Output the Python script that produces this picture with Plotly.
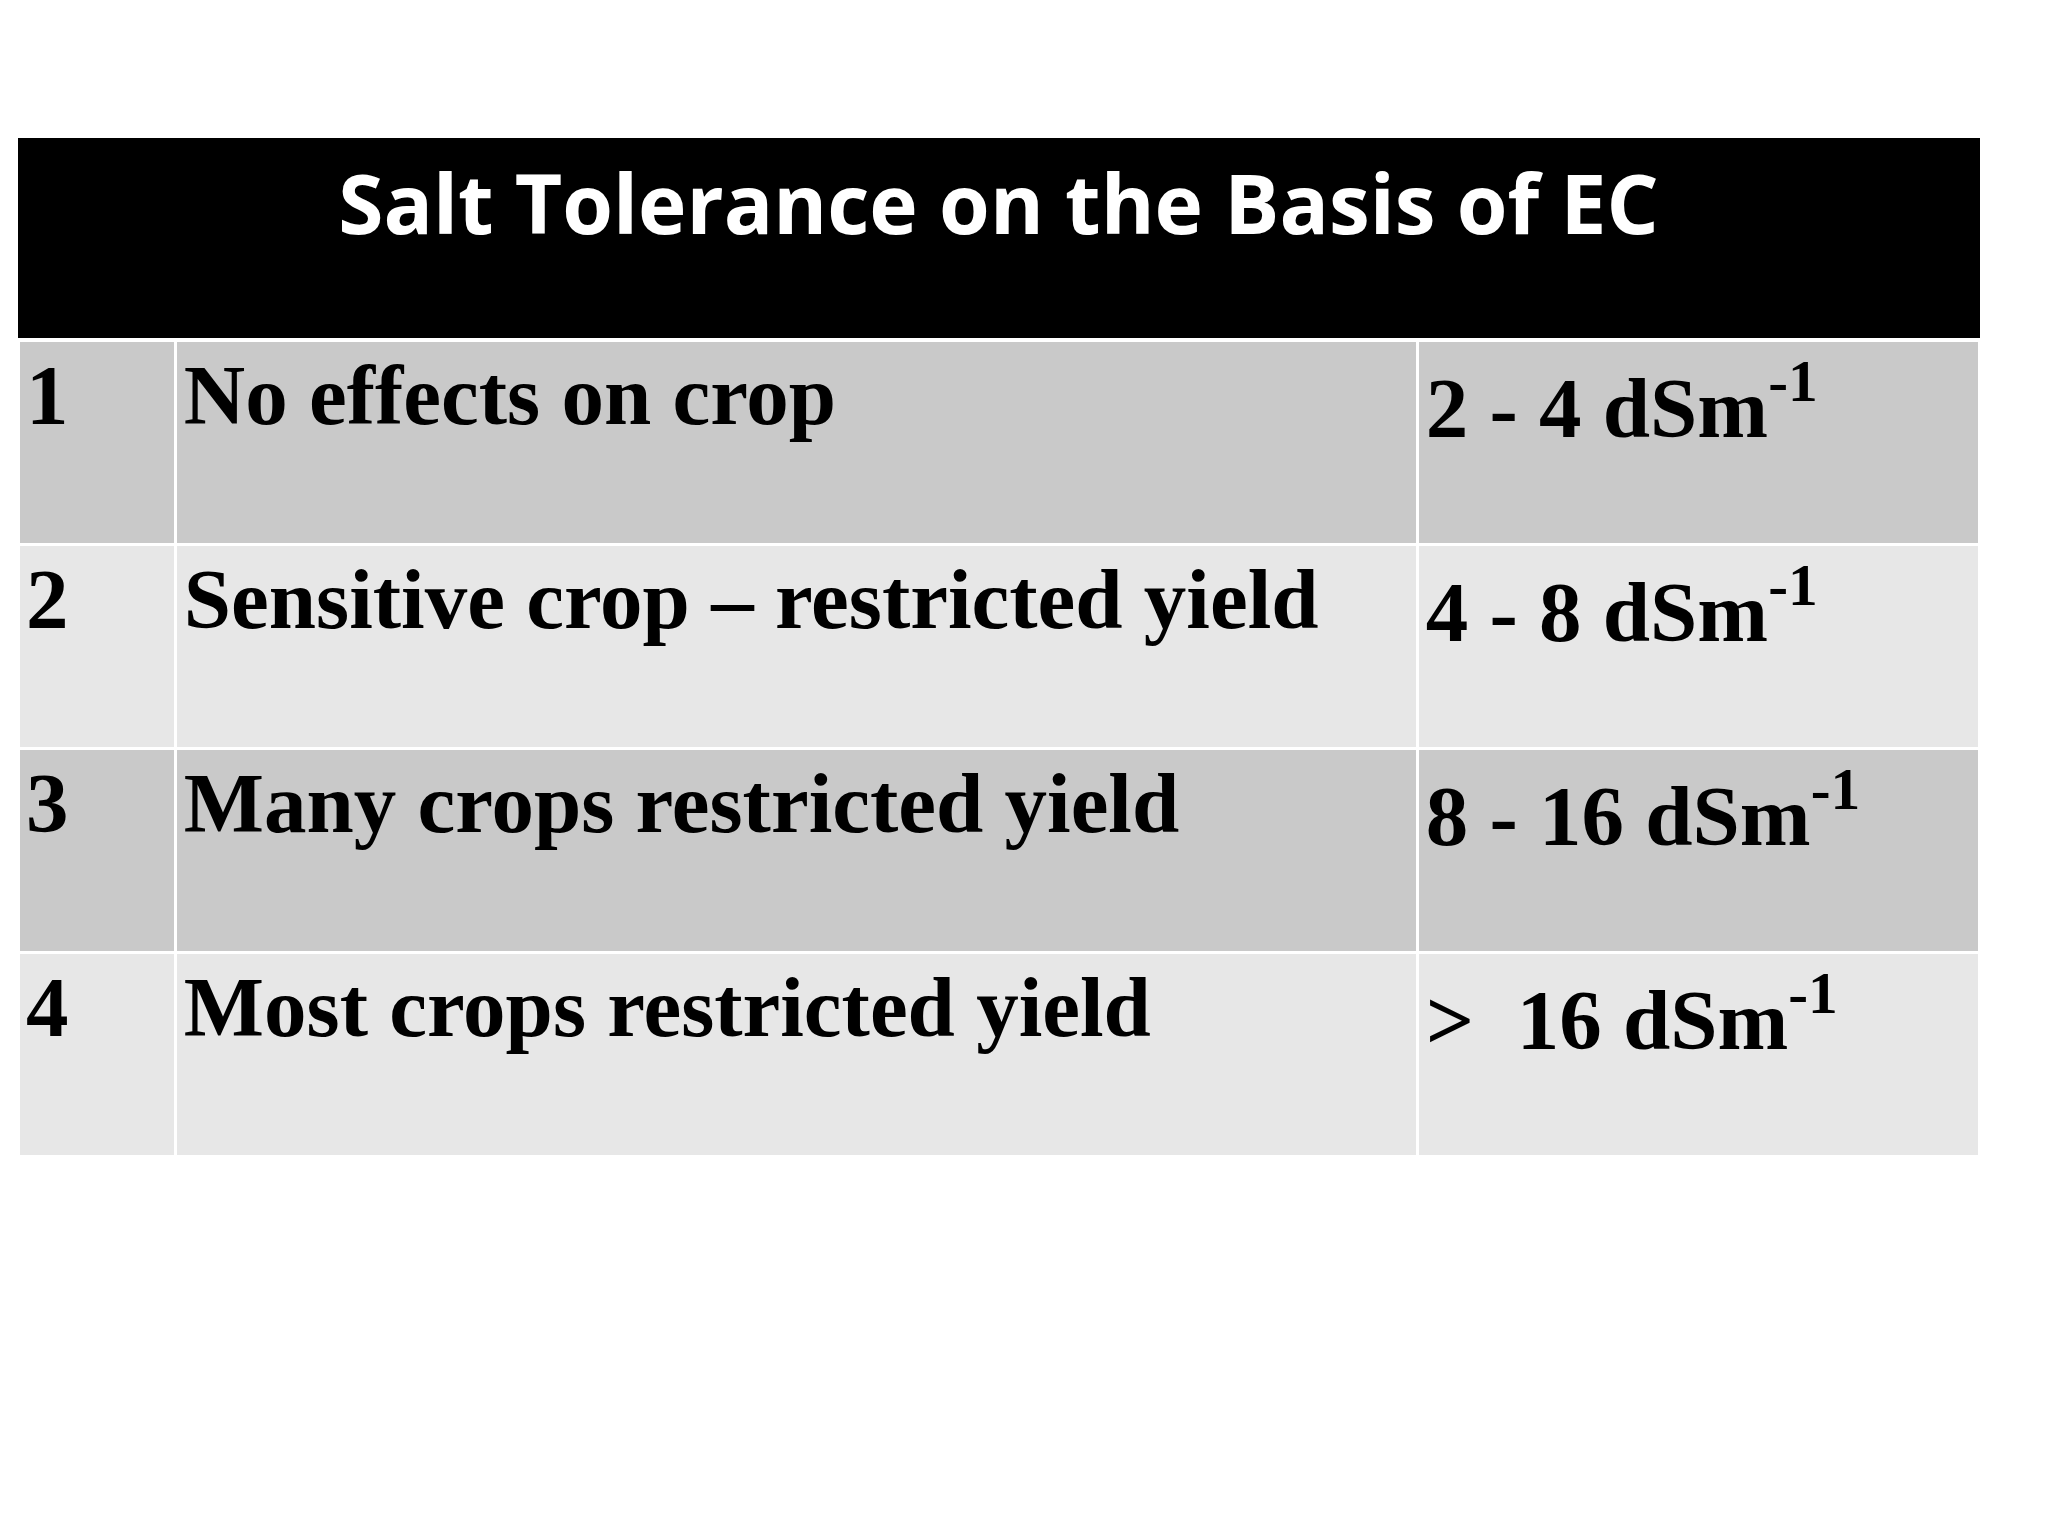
import plotly.graph_objects as go

title = "Salt Tolerance on the Basis of EC"
numbers = ["1", "2", "3", "4"]
effects = ["No effects on crop", "Sensitive crop – restricted yield",
           "Many crops restricted yield", "Most crops restricted yield"]
ec_ranges = ["2 - 4 dSm<sup>-1</sup>", "4 - 8 dSm<sup>-1</sup>",
             "8 - 16 dSm<sup>-1</sup>", ">  16 dSm<sup>-1</sup>"]

W, H = 2048, 1536
row_fills = ["#c9c9c9", "#e7e7e7", "#c9c9c9", "#e7e7e7"]

fig = go.Figure()

# title bar
fig.add_trace(go.Table(
    domain=dict(x=[10 / W, 1971 / W], y=[1 - 331 / H, 1 - 130 / H]),
    columnwidth=[1],
    header=dict(values=["<b>" + title + "</b>"], fill_color="black",
                line_color="black", align="center", height=199,
                font=dict(family="Open Sans", size=82, color="white")),
    cells=dict(values=[[]]),
))

# body rows
fig.add_trace(go.Table(
    domain=dict(x=[10 / W, 1971 / W], y=[1 - 1147 / H, 1 - 331 / H]),
    columnwidth=[160, 1259, 569],
    header=dict(values=["", "", ""], height=1, fill_color="white",
                line=dict(color="white", width=0), font=dict(size=1)),
    cells=dict(
        values=[["<b>%s</b>" % v for v in numbers],
                ["<b>%s</b>" % v for v in effects],
                ["<b>%s</b>" % v for v in ec_ranges]],
        fill_color=[row_fills] * 3,
        line=dict(color="white", width=3),
        align="left", height=204,
        font=dict(family="Liberation Serif", size=85, color="black"),
    ),
))

fig.update_layout(width=W, height=H, margin=dict(l=0, r=0, t=0, b=0),
                  paper_bgcolor="white", plot_bgcolor="white")
fig.write_html("out.html")
